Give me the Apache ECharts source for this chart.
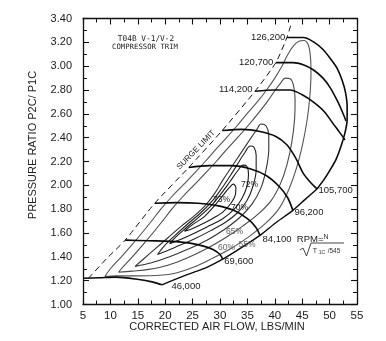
<!DOCTYPE html>
<html><head><meta charset="utf-8">
<script src="https://cdn.jsdelivr.net/npm/echarts@6/dist/echarts.min.js"></script>
<style>html,body{margin:0;padding:0;background:#fff}#c{width:386px;height:341px}</style>
</head><body><div id="c"></div>
<script>
// ---- data ----
const xTicks = [5, 10, 15, 20, 25, 30, 35, 40, 45, 50, 55];
const yTickLabels = ['1.00','1.20','1.40','1.60','1.80','2.00','2.20','2.40','2.60','2.80','3.00','3.20','3.40'];

const surgeLine = [[6.0,1.22],[9.2,1.38],[12.7,1.54],[18.1,1.85],[24.3,2.15],[30.4,2.46],[36.4,2.79],[40.2,3.03],[42.2,3.24],[42.9,3.34]];
const chokeLine = [[19.4,1.165],[24.0,1.25],[27.5,1.31],[30.5,1.38],[34.0,1.48],[37.3,1.58],[40.3,1.69],[43.3,1.79],[45.5,1.88],[47.7,1.97]];

const speedNames = ['46,000','69,600','84,100','96,200','105,700','114,200','120,700','126,200'];
const speed46000  = [[5,1.22],[8,1.225],[11,1.23],[15.2,1.21],[17.6,1.19],[19.4,1.165]];
const speed69600  = [[12.7,1.54],[17,1.535],[21,1.53],[24.5,1.515],[27,1.49],[28.8,1.46],[30.0,1.42],[30.5,1.38]];
const speed84100  = [[18.1,1.85],[22,1.855],[26,1.85],[29.5,1.83],[32.5,1.79],[35,1.72],[36.5,1.65],[37.3,1.58]];
const speed96200  = [[24.3,2.15],[28,2.165],[32,2.165],[35.5,2.14],[38.5,2.08],[40.8,1.99],[42.3,1.90],[43.3,1.79]];
const speed105700 = [[30.4,2.46],[34,2.47],[37.5,2.45],[40.2,2.41],[42.2,2.34],[43.8,2.23],[45.2,2.10],[46.4,2.03],[47.7,1.97]];
const speed114200 = [[36.4,2.79],[40,2.80],[42.8,2.80],[45,2.76],[47,2.70],[49,2.62],[50.6,2.52],[51.9,2.44],[52.8,2.38]];
const speed120700 = [[40.2,3.03],[43.3,3.03],[45.3,3.01],[47,2.97],[48.8,2.90],[50.1,2.82],[51.4,2.71],[52.3,2.62],[53.0,2.54]];
const speed126200 = [[42.2,3.24],[45.2,3.24],[47.2,3.20],[48.8,3.14],[50.2,3.06],[51.4,2.98],[52.3,2.88],[52.9,2.78],[53.2,2.66],[53.2,2.55],[52.8,2.44],[52.1,2.33],[51.2,2.22],[50.1,2.13],[49.0,2.05],[47.7,1.97]];

const effNames = ['55%','60%','65%','70%','72%','73%'];
const eff55 = [[9.0,1.235],[10.0,1.30],[12.0,1.40],[13.9,1.50],[15.75,1.60],[17.5,1.70],[19.2,1.80],[21.1,1.90],[23.2,2.00],[25.3,2.10],[27.3,2.20],[29.2,2.30],[31.2,2.40],[33.1,2.50],[34.9,2.60],[36.8,2.70],[38.5,2.80],[40.0,2.90],[41.3,3.00],[42.4,3.10],[43.4,3.17],[44.4,3.21],[45.3,3.215],[46.1,3.18],[46.5,3.08],[46.6,2.95],[46.4,2.75],[45.9,2.55],[45.1,2.35],[44.0,2.15],[42.6,1.97],[40.7,1.80],[38.3,1.68],[35.3,1.57],[32.0,1.47],[28.5,1.385],[25.0,1.31],[22.0,1.265],[19.0,1.245],[15.0,1.24],[11.0,1.24]];
const eff60 = [[11.5,1.27],[12.0,1.30],[14.0,1.40],[15.9,1.50],[17.75,1.60],[19.5,1.70],[21.2,1.80],[23.1,1.90],[25.2,2.00],[27.3,2.10],[29.3,2.20],[31.2,2.30],[33.2,2.40],[35.1,2.50],[36.9,2.60],[38.6,2.70],[40.1,2.80],[41.1,2.86],[41.9,2.90],[42.8,2.895],[43.4,2.84],[43.7,2.72],[43.6,2.55],[43.1,2.36],[42.2,2.17],[41.0,2.01],[39.3,1.87],[37.0,1.76],[34.2,1.66],[31.0,1.56],[27.6,1.47],[24.0,1.39],[20.5,1.33],[17.0,1.295],[14.0,1.28]];
const eff65 = [[14.5,1.32],[16.0,1.38],[18.0,1.46],[20.5,1.56],[23.0,1.66],[25.2,1.74],[27.3,1.83],[29.0,1.93],[30.6,2.05],[32.2,2.16],[33.8,2.27],[35.4,2.38],[36.6,2.46],[37.5,2.515],[38.4,2.50],[38.9,2.42],[38.9,2.30],[38.4,2.13],[37.4,1.97],[35.8,1.84],[33.6,1.73],[30.8,1.63],[27.6,1.54],[24.2,1.465],[20.8,1.40],[17.5,1.35]];
const eff70 = [[18.6,1.42],[19.8,1.49],[21.8,1.58],[24.2,1.68],[26.5,1.77],[28.6,1.87],[30.4,1.98],[32.0,2.09],[33.5,2.20],[34.6,2.28],[35.5,2.33],[36.2,2.32],[36.6,2.25],[36.6,2.13],[36.0,1.99],[34.9,1.87],[33.2,1.77],[31.0,1.69],[28.3,1.62],[25.3,1.55],[22.3,1.49],[20.0,1.445]];
const eff72 = [[20.8,1.51],[22.0,1.57],[24.0,1.65],[26.3,1.74],[28.4,1.83],[30.2,1.93],[31.8,2.03],[33.2,2.12],[34.2,2.17],[34.9,2.16],[35.2,2.09],[34.9,1.99],[34.0,1.89],[32.6,1.80],[30.5,1.72],[28.0,1.66],[25.4,1.60],[22.8,1.545]];
const eff73 = [[23.5,1.615],[25.0,1.67],[27.2,1.74],[29.2,1.84],[30.6,1.92],[31.7,1.98],[32.4,2.01],[32.9,1.98],[32.8,1.92],[32.0,1.85],[30.6,1.78],[28.6,1.72],[26.3,1.665],[24.6,1.63]];

// ---- build ----
const FONT = '"Liberation Sans", Arial, sans-serif';
const yMin = parseFloat(yTickLabels[0]), yMax = parseFloat(yTickLabels[yTickLabels.length-1]);
const yStep = parseFloat(yTickLabels[1]) - yMin;
const xMin = xTicks[0], xMax = xTicks[xTicks.length-1], xStep = xTicks[1]-xTicks[0];

const speedData = [speed46000, speed69600, speed84100, speed96200, speed105700, speed114200, speed120700, speed126200];
const speedLabelCfg = [
  {end:'last', pos:'right', dist:9, off:[0,2]},
  {end:'last', pos:'right', dist:1, off:[0,2]},
  {end:'last', pos:'right', dist:2, off:[0,4], text:'84,100  RPM='},
  {end:'last', pos:'right', dist:1, off:[0,2]},
  {end:'last', pos:'right', dist:1, off:[0,1]},
  {end:'first', pos:'left', dist:2, off:[0,-2]},
  {end:'first', pos:'left', dist:2, off:[0,0]},
  {end:'first', pos:'left', dist:1, off:[0,0]}
];
const effData = [eff55, eff60, eff65, eff70, eff72, eff73];
const effColors = ['#555','#4a4a4a','#333','#222','#1a1a1a','#1a1a1a'];

const series = [];
speedData.forEach((arr, i) => {
  const cfg = speedLabelCfg[i];
  const li = cfg.end === 'last' ? arr.length - 1 : 0;
  const data = arr.map((p, j) => j === li ? {
    value: p,
    label: {show:true, formatter: cfg.text || speedNames[i], position: cfg.pos, distance: cfg.dist,
            offset: cfg.off, color:'#1a1a1a', fontSize:9.5, fontFamily: FONT}
  } : {value: p});
  series.push({type:'line', name: speedNames[i], data, smooth:0.3, symbol:'circle', symbolSize:1, showSymbol:true,
    itemStyle:{color:'rgba(0,0,0,0)'}, lineStyle:{color:'#0a0a0a', width:1.6}, z:5, silent:true});
});
series.push({type:'line', name:'choke', data: chokeLine, smooth:0.3, symbol:'none',
  lineStyle:{color:'#0a0a0a', width:1.4}, z:5, silent:true});
series.push({type:'line', name:'surge', data: surgeLine, smooth:0.2, symbol:'none',
  lineStyle:{color:'#111', width:1, type:[6,4]}, z:4, silent:true});
effData.forEach((arr, i) => {
  series.push({type:'line', name: effNames[i], data: arr.concat([arr[0]]), smooth:0.35, symbol:'none',
    lineStyle:{color: effColors[i], width:1.1}, z:3, silent:true});
});

function txt(x, y, text, size, color, opts) {
  opts = opts || {};
  return {type:'text', x, y, rotation: opts.rot || 0, silent:true, z:100,
    style:{text, fill: color || '#222', font: (opts.weight||'normal') + ' ' + size + 'px ' + (opts.family || FONT),
      textAlign: opts.align || 'center', textVerticalAlign:'middle', align: opts.align || 'center', verticalAlign:'middle'}};
}

const graphics = [
  txt(33, 145, 'PRESSURE RATIO P2C/ P1C', 11, '#222', {rot: Math.PI/2}),
  txt(217, 327, 'CORRECTED AIR FLOW, LBS/MIN', 11, '#222'),
  txt(146, 38.5, 'T04B V-1/V-2', 7.8, '#1a1a1a', {family:'"DejaVu Sans Mono", monospace'}),
  txt(145, 47.5, 'COMPRESSOR TRIM', 7.3, '#1a1a1a', {family:'"DejaVu Sans Mono", monospace'}),
  txt(196, 150, 'SURGE LIMIT', 8, '#222', {rot: 0.80}),
  txt(221.5, 200, effNames[5], 8.5, '#1a1a1a'),
  txt(249.5, 185, effNames[4], 8.5, '#1a1a1a'),
  txt(239.5, 208, effNames[3], 8.5, '#1a1a1a'),
  txt(234.5, 231.5, effNames[2], 8.5, '#555'),
  txt(226.5, 247.5, effNames[1], 8.5, '#666'),
  txt(247, 245, effNames[0], 8.5, '#666'),
  txt(326, 237.5, 'N', 7, '#333'),
  txt(315, 251, 'T', 7, '#333'),
  txt(322, 253, '1C', 5, '#333'),
  txt(334, 251, '/545', 6.5, '#333'),
  {type:'polyline', silent:true, z:100, shape:{points:[[300,250],[303,248],[306.5,256],[311,243],[344,243]]},
   style:{stroke:'#333', lineWidth:0.9, fill:null}}
];

const axisCommon = {
  axisLine:{show:true, onZero:false, lineStyle:{color:'#111', width:1.3}},
  axisTick:{show:true, inside:true, length:6, lineStyle:{color:'#111', width:1.1}},
  minorTick:{show:true, splitNumber:2, length:4, lineStyle:{color:'#111', width:1}},
  splitLine:{show:false}, minorSplitLine:{show:false}
};

const option = {
  animation:false,
  backgroundColor:'#fff',
  grid:{left:83, right:29, top:18.5, bottom:36.5, containLabel:false},
  xAxis:[
    Object.assign({type:'value', min:xMin, max:xMax, interval:xStep, position:'bottom',
      axisLabel:{color:'#1a1a1a', fontSize:11.5, fontFamily:FONT, margin:5}}, axisCommon),
    Object.assign({type:'value', min:xMin, max:xMax, interval:xStep, position:'top',
      axisLabel:{show:false}}, axisCommon)
  ],
  yAxis:[
    Object.assign({type:'value', min:yMin, max:yMax, interval:yStep, position:'left',
      axisLabel:{color:'#1a1a1a', fontSize:11, fontFamily:FONT, margin:11,
        formatter: v => yTickLabels[Math.round((v - yMin)/yStep)]}}, axisCommon),
    Object.assign({type:'value', min:yMin, max:yMax, interval:yStep, position:'right',
      axisLabel:{show:false}}, axisCommon)
  ],
  series,
  graphic: graphics
};

const chart = echarts.init(document.getElementById('c'), null, {renderer:'canvas'});
chart.setOption(option);
</script>
</body></html>
